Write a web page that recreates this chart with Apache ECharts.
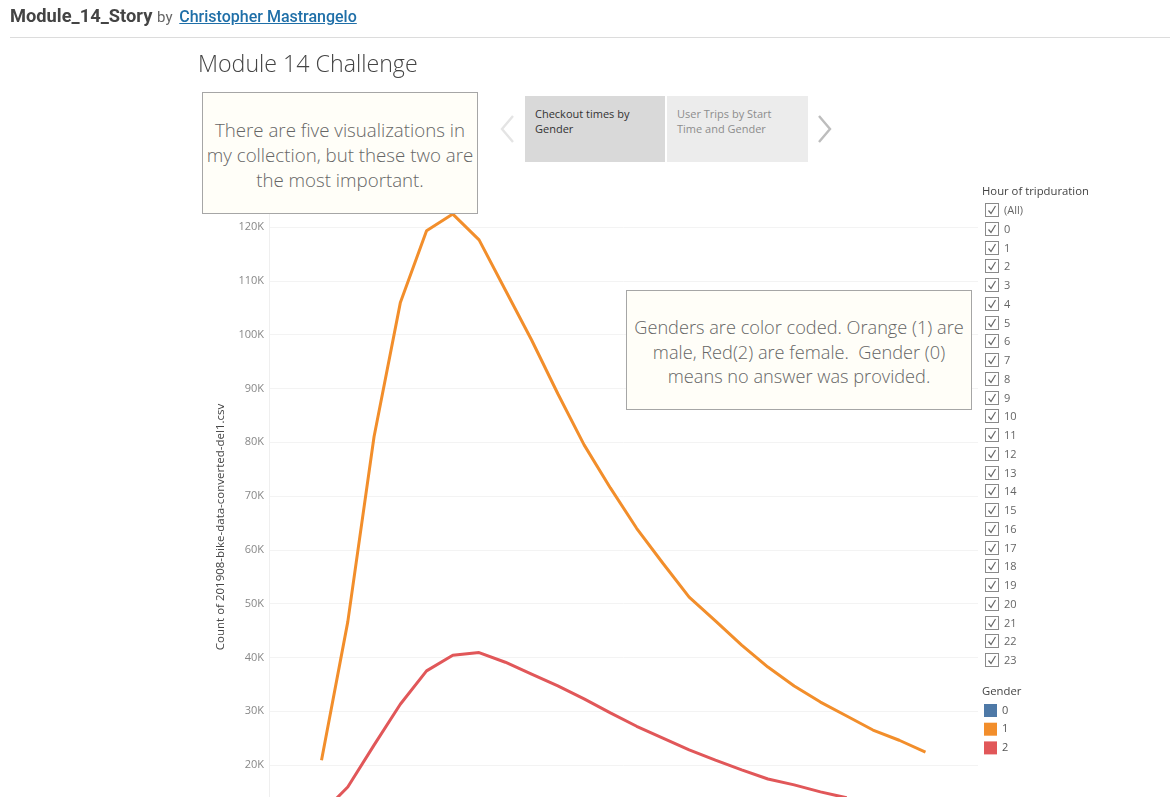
<!DOCTYPE html>
<html>
<head>
<meta charset="UTF-8">
<title>Module_14_Story</title>
<script src="https://cdn.jsdelivr.net/npm/echarts@6/dist/echarts.min.js"></script>
<style>
	html, body { margin: 0; padding: 0; background: #fff; }
	body { width: 1170px; height: 797px; overflow: hidden; position: relative; font-family: "Open Sans", sans-serif; }
	#chart { position: absolute; left: 0; top: 0; width: 1170px; height: 797px; }
	.abs { position: absolute; white-space: nowrap; }
	#head { left: 10px; top: 5px; font-family: Roboto, sans-serif; font-size: 15px; line-height: 22px; color: #666; }
	#head b { font-size: 18.3px; color: #444; margin-right: 1px; }
	#head u { color: #1f6fa8; font-weight: 500; font-size: 16px; margin-left: 3px; }
	#rule { left: 10px; top: 37px; width: 1160px; height: 1px; background: #dcdcdc; }
	#title { left: 198px; top: 47px; font-size: 23.2px; line-height: 32px; font-weight: 300; color: #444; }
	.note { background: #fffef8; border: 1px solid #a6a6a6; box-sizing: border-box; text-align: center; color: #666; font-weight: 300; display: flex; align-items: center; justify-content: center; }
	#note1 { left: 202px; top: 92px; width: 276px; height: 122px; font-size: 18.7px; line-height: 25px; padding-top: 2px; }
	#note2 { left: 626px; top: 290px; width: 346px; height: 120px; font-size: 18.2px; line-height: 24.5px; padding-top: 4px; }
	.tab { top: 96px; height: 66px; font-size: 11px; line-height: 15px; padding: 10px 0 0 10px; box-sizing: border-box; }
	#tab1 { left: 525px; width: 140px; background: #d9d9d9; color: #333; }
	#tab2 { left: 667px; width: 141px; background: #ececec; color: #8c8c8c; }
	.filterhead { font-size: 11.3px; color: #444; line-height: 14px; }
	.row { left: 985px; height: 14px; font-size: 11px; line-height: 14px; color: #666; }
	.row span { position: absolute; left: 19px; top: 0; }
	.row svg { position: absolute; left: 0; top: 0; }
</style>
</head>
<body>
	<div id="chart"></div>

	<div class="abs" id="head"><b>Module_14_Story</b> by <u>Christopher Mastrangelo</u></div>
	<div class="abs" id="rule"></div>
	<div class="abs" id="title">Module 14 Challenge</div>

	<div class="abs note" id="note1"><div>There are five visualizations in<br>my collection, but these two are<br>the most important.</div></div>
	<div class="abs note" id="note2"><div>Genders are color coded. Orange (1) are<br>male, Red(2) are female.&nbsp; Gender (0)<br>means no answer was provided.</div></div>

	<div class="abs tab" id="tab1">Checkout times by<br>Gender</div>
	<div class="abs tab" id="tab2">User Trips by Start<br>Time and Gender</div>
	<svg class="abs" style="left:498px;top:112px" width="20" height="34"><polyline points="15,4 4,17 15,30" fill="none" stroke="#e4e4e4" stroke-width="2.4"/></svg>
	<svg class="abs" style="left:814px;top:112px" width="20" height="34"><polyline points="5,4 16,17 5,30" fill="none" stroke="#bdbdbd" stroke-width="2.4"/></svg>

	<div class="abs filterhead" style="left:982px;top:184px">Hour of tripduration</div>
	<div id="filters"></div>
	<div class="abs filterhead" style="left:982px;top:684px">Gender</div>

	<script>
		var hours = [0,1,2,3,4,5,6,7,8,9,10,11,12,13,14,15,16,17,18,19,20,21,22,23];
		var male = [20900,46600,81000,105900,119300,122400,117600,108300,99000,89000,79500,71500,64000,57500,51200,46800,42300,38200,34700,31700,29100,26500,24600,22400];
		// lower part of the red line runs off the picture, hour 20 is the last one visible
		var female = [11000,15900,23700,31300,37500,40400,40900,39100,36900,34700,32300,29700,27200,25000,22800,20900,19100,17400,16300,15000,13900];
		var genderNames = ["0", "1", "2"];
		var genderColors = ["#4e79a7", "#f28e2b", "#e15759"];
		var filterItems = ["(All)"].concat(hours.map(String));

		function pairs(values) {
			return values.map(function(v, i) { return [hours[i], v]; });
		}

		// checkbox list on the right
		var filterHtml = "";
		for (var i = 0; i < filterItems.length; i++) {
			filterHtml += '<div class="abs row" style="top:' + (203 + i * 18.75) + 'px">'
				+ '<svg width="14" height="14"><rect x="0.5" y="0.5" width="13" height="13" fill="#fff" stroke="#8a8a8a"/>'
				+ '<polyline points="3.5,7.5 6,10.5 10.5,3" fill="none" stroke="#666" stroke-width="1.2"/></svg>'
				+ '<span>' + filterItems[i] + '</span></div>';
		}
		document.getElementById("filters").innerHTML = filterHtml;

		var chart = echarts.init(document.getElementById("chart"));
		chart.setOption({
			animation: false,
			textStyle: { fontFamily: "Open Sans" },
			color: genderColors,
			// the plot carries on below the window, same as the reference
			grid: { left: 269, top: 210.86, width: 709, height: 607.94, outerBoundsMode: "none" },
			legend: {
				orient: "vertical", left: 984, top: 704, padding: 0,
				icon: "rect", itemWidth: 13, itemHeight: 13, itemGap: 5.7,
				textStyle: { fontSize: 11, color: "#555" },
				data: genderNames
			},
			xAxis: {
				type: "value", min: -2, max: 25,
				axisLabel: { show: false }, axisTick: { show: false },
				axisLine: { show: false }, splitLine: { show: false }
			},
			yAxis: {
				type: "value", min: 10000, max: 123000, interval: 10000,
				axisLine: { show: true, onZero: false, lineStyle: { color: "#efefef" } },
				axisTick: { show: false },
				axisLabel: {
					color: "#888", fontSize: 11, margin: 5, showMaxLabel: false,
					formatter: function(v) { return (v / 1000) + "K"; }
				},
				splitLine: { showMaxLine: false, lineStyle: { color: "#f3f3f3" } }
			},
			graphic: [{
				type: "text", x: 221, y: 527, rotation: Math.PI / 2,
				style: {
					text: "Count of 201908-bike-data-converted-del1.csv",
					fill: "#444", fontSize: 11.5, fontFamily: "Open Sans",
					align: "center", verticalAlign: "middle"
				}
			}],
			series: [
				{ name: genderNames[0], type: "line", data: [], symbol: "none" },
				{ name: genderNames[1], type: "line", data: pairs(male), symbol: "none", lineStyle: { width: 3 }, clip: false },
				{ name: genderNames[2], type: "line", data: pairs(female), symbol: "none", lineStyle: { width: 3 }, clip: false }
			]
		});
	</script>
</body>
</html>
